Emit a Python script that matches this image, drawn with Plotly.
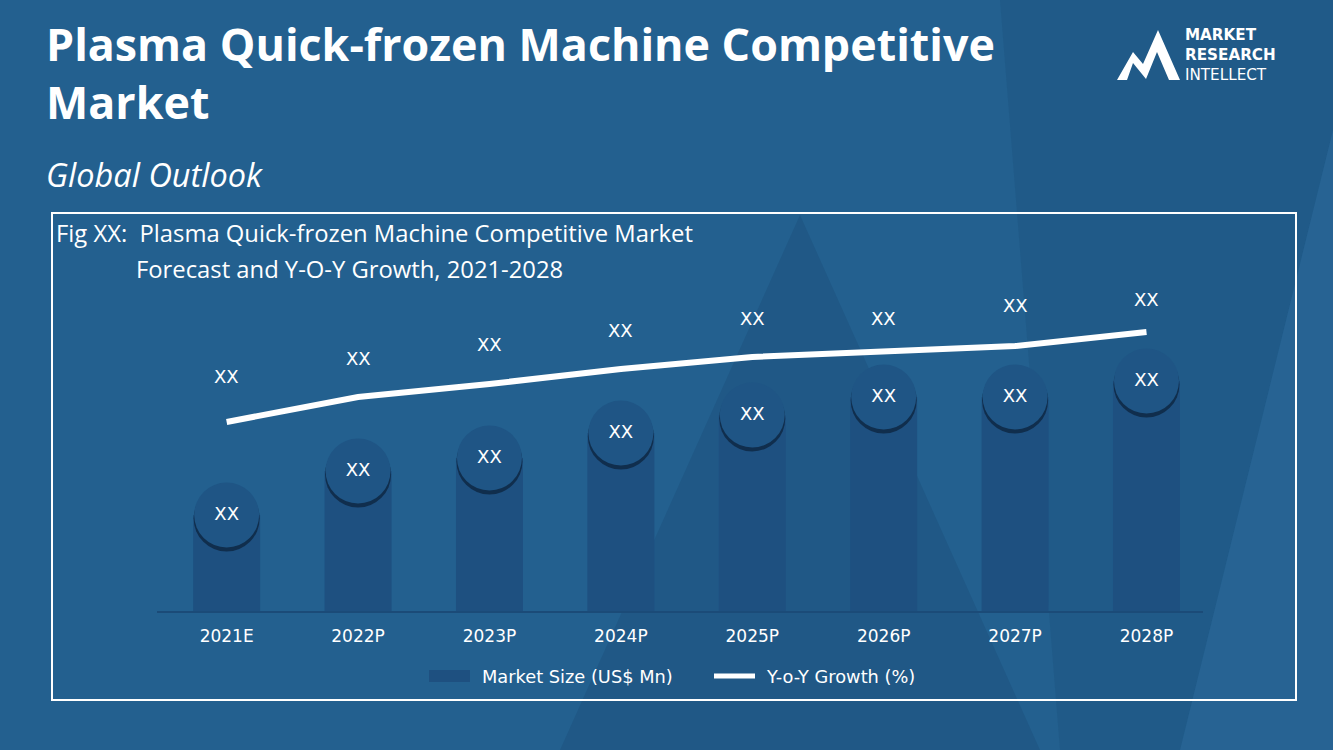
import plotly.graph_objects as go

# ---------------- data ----------------
years = ["2021E", "2022P", "2023P", "2024P", "2025P", "2026P", "2027P", "2028P"]
market_size = [9.6, 14.0, 15.3, 17.8, 19.6, 21.4, 21.4, 23.0]
yoy_growth = [18.9, 21.4, 22.7, 24.2, 25.4, 25.9, 26.5, 27.9]
bar_labels = ["XX"] * 8
line_labels = ["XX"] * 8

title_text = "Plasma Quick-frozen Machine Competitive<br>Market"
subtitle_text = "Global Outlook"
fig_title_1 = "Fig XX:  Plasma Quick-frozen Machine Competitive Market"
fig_title_2 = "Forecast and Y-O-Y Growth, 2021-2028"
legend_names = ["Market Size (US$ Mn)", "Y-o-Y Growth (%)"]
logo_text = "<b>MARKET</b><br><b>RESEARCH</b><br>INTELLECT"

# ---------------- styles ----------------
W, H = 1333, 750
BG = "#23608f"
BAR = "#1e5080"
CIRCLE = "#1f5585"
SHADOW = "rgba(12,35,60,0.75)"
WHITE = "#ffffff"
FONT = "Open Sans"
LBL = "DejaVu Sans"
LINE_LABEL_SHIFT = [46, 39, 40, 39, 39, 34, 41, 33]  # pixel offset of labels above line


def px(x):
    return x / W


def py(y):
    return 1 - y / H


fig = go.Figure()

fig.add_trace(go.Bar(x=years, y=market_size, width=0.51, marker=dict(color=BAR, line=dict(width=0)),
                     hoverinfo="skip", showlegend=False))
# circle shadow
fig.add_trace(go.Scatter(x=years, y=[v - 0.35 for v in market_size], mode="markers",
                         marker=dict(size=66, color=SHADOW, line=dict(width=0)),
                         hoverinfo="skip", showlegend=False))
fig.add_trace(go.Scatter(x=years, y=market_size, mode="markers+text", text=bar_labels,
                         textposition="middle center",
                         textfont=dict(color=WHITE, size=18, family=LBL),
                         marker=dict(size=65, color=CIRCLE, line=dict(width=0)),
                         hoverinfo="skip", showlegend=False))
fig.add_trace(go.Scatter(x=years, y=yoy_growth, mode="lines",
                         line=dict(color=WHITE, width=6),
                         hoverinfo="skip", showlegend=False))

annotations = []
for yr, v, t, s in zip(years, yoy_growth, line_labels, LINE_LABEL_SHIFT):
    annotations.append(dict(x=yr, y=v, xref="x", yref="y", text=t, showarrow=False, yshift=s,
                            font=dict(color=WHITE, size=18, family=LBL)))


def note(x, y, text, size, family=FONT, anchor="left"):
    return dict(x=px(x), y=py(y), xref="paper", yref="paper", xanchor=anchor, yanchor="middle",
                text=text, showarrow=False, align="left",
                font=dict(color=WHITE, size=size, family=family))


annotations += [
    note(44, 73, "<b>" + title_text + "</b>", 44.8),
    note(44, 174, "<i>" + subtitle_text + "</i>", 32.5),
    note(54, 233, fig_title_1, 23.8),
    note(134, 269, fig_title_2, 23.8),
    note(480, 676, legend_names[0], 17.8, LBL),
    note(764, 676, legend_names[1], 17.8, LBL),
    note(1183, 55, logo_text, 15.2, LBL),
]


def path(points):
    return "M " + " L ".join(f"{px(x)},{py(y)}" for x, y in points) + " Z"


shapes = [
    # subtle background facets
    dict(type="path", xref="paper", yref="paper", layer="below",
         path=path([(1000, 0), (1333, 0), (1333, 130), (1180, 750), (1060, 750)]),
         fillcolor="rgba(20,60,100,0.16)", line=dict(width=0)),
    dict(type="path", xref="paper", yref="paper", layer="below",
         path=path([(800, 215), (1040, 750), (560, 750)]),
         fillcolor="rgba(20,60,100,0.2)", line=dict(width=0)),
    dict(type="path", xref="paper", yref="paper", layer="below",
         path=path([(1333, 130), (1333, 750), (1180, 750)]),
         fillcolor="rgba(60,120,170,0.16)", line=dict(width=0)),
    # chart frame
    dict(type="rect", xref="paper", yref="paper", x0=px(52), x1=px(1296), y0=py(213), y1=py(700),
         line=dict(color=WHITE, width=2), fillcolor="rgba(0,0,0,0)", layer="below"),
    # legend swatches
    dict(type="rect", xref="paper", yref="paper", x0=px(429), x1=px(470), y0=py(682), y1=py(670),
         fillcolor=BAR, line=dict(width=0)),
    dict(type="line", xref="paper", yref="paper", x0=px(714), x1=px(755), y0=py(676), y1=py(676),
         line=dict(color=WHITE, width=5)),
    # logo mountain
    dict(type="path", xref="paper", yref="paper",
         path=path([(1117, 80), (1133, 52), (1143, 64), (1158, 30), (1180, 80), (1169, 80),
                    (1157, 52), (1146, 79), (1133, 63), (1127, 80)]),
         fillcolor=WHITE, line=dict(width=0)),
]

fig.update_layout(
    width=W, height=H,
    paper_bgcolor=BG, plot_bgcolor="rgba(0,0,0,0)",
    margin=dict(l=0, r=0, t=0, b=0),
    showlegend=False,
    annotations=annotations,
    shapes=shapes,
    xaxis=dict(domain=[px(157), px(1203)], range=[-0.53, 7.43], showgrid=False, zeroline=False,
               showline=True, linecolor="#1b4b78", linewidth=1.5, ticks="",
               tickfont=dict(color=WHITE, size=17, family=LBL), ticklabelstandoff=9,
               fixedrange=True),
    yaxis=dict(domain=[py(611), py(220)], range=[0, 39.1], visible=False, fixedrange=True),
)

fig.write_html("out.html", config={"displayModeBar": False},
               post_script="document.body.style.margin='0';document.body.style.background='" + BG + "';")
